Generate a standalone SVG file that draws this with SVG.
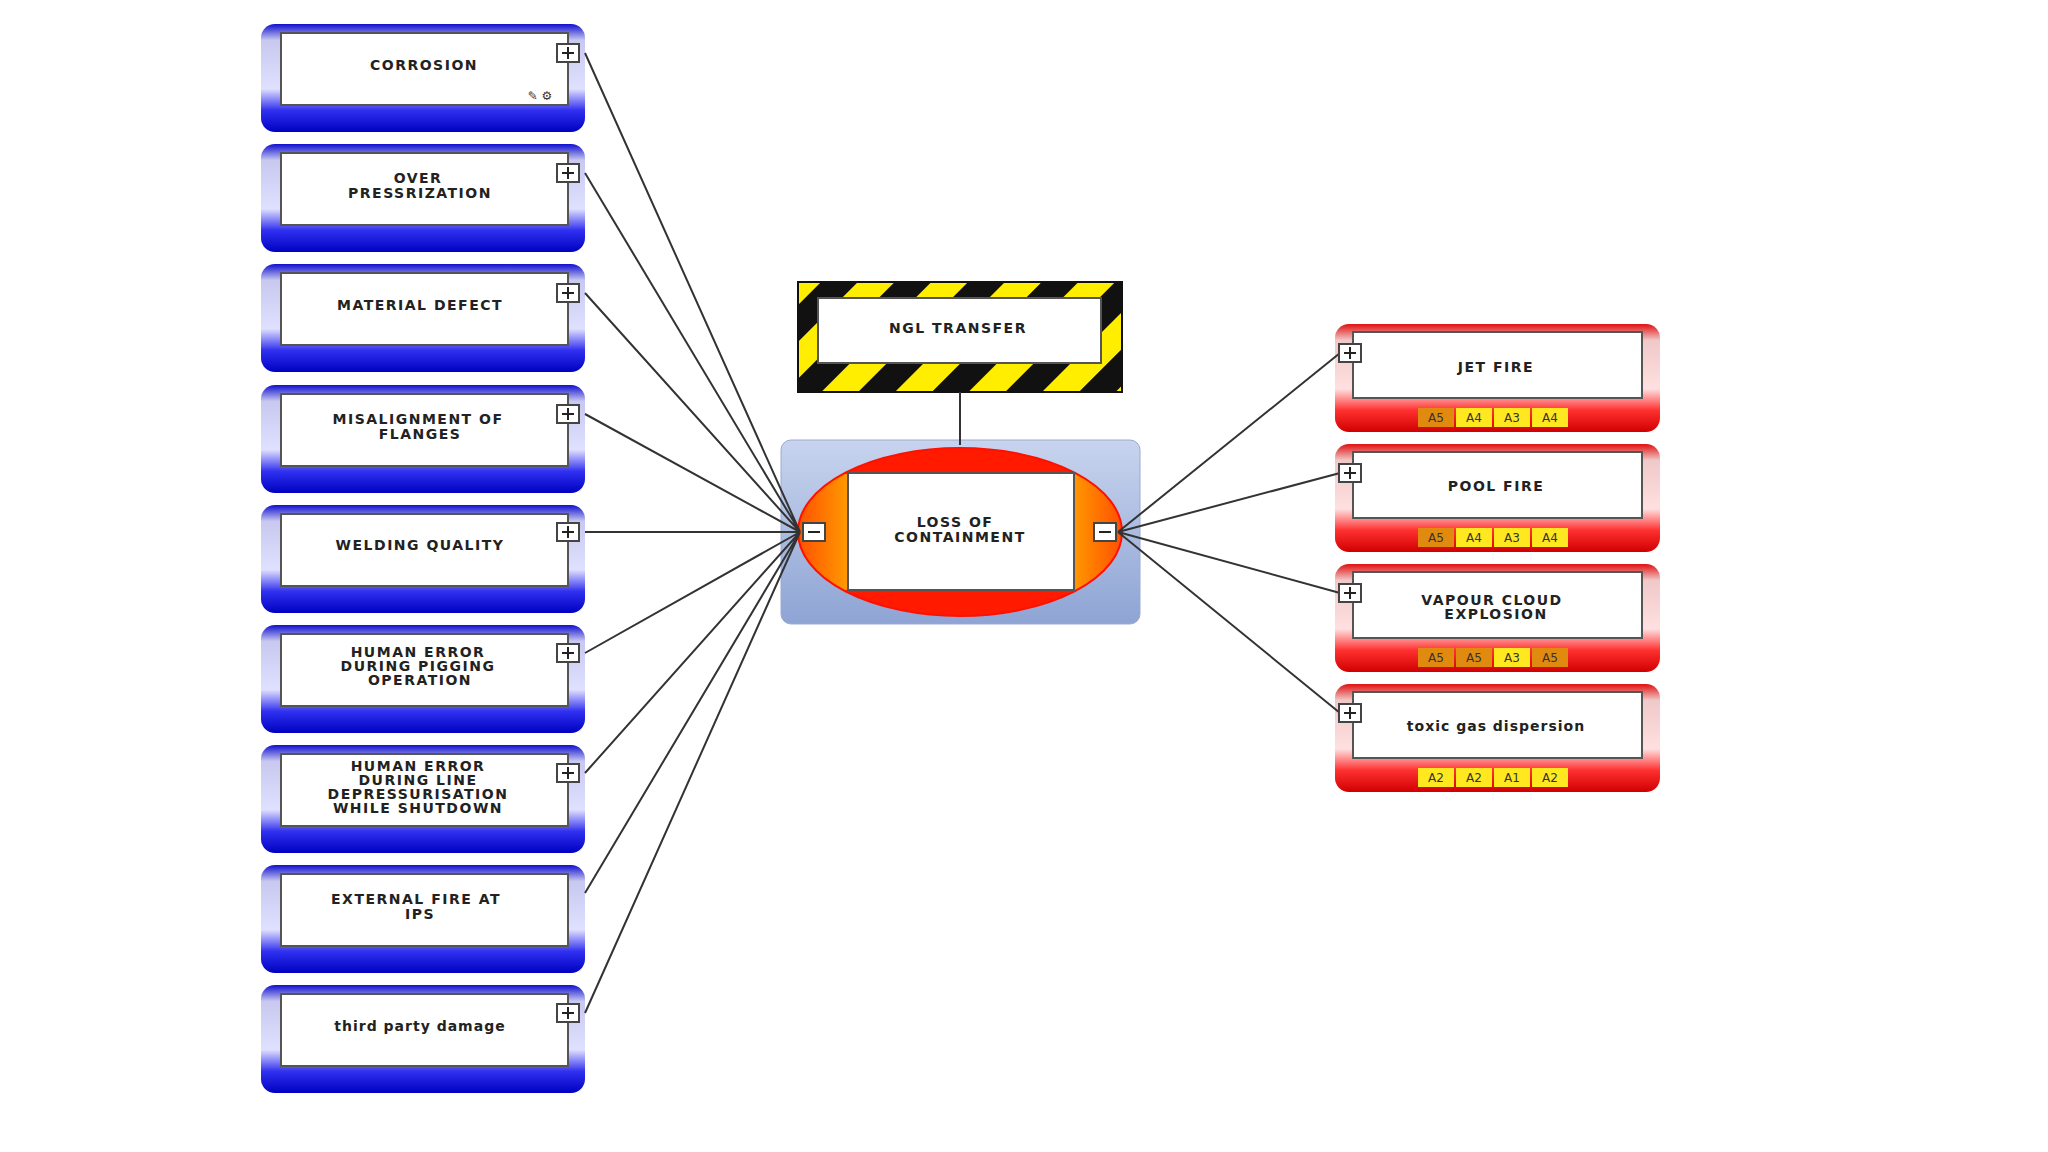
<svg xmlns="http://www.w3.org/2000/svg" width="2048" height="1152" viewBox="0 0 2048 1152">
<defs>
<linearGradient id="bg" x1="0" y1="0" x2="0" y2="1"><stop offset="0" stop-color="#1010d0"/><stop offset="0.15" stop-color="#c8c8f0"/><stop offset="0.6" stop-color="#e0e0ff"/><stop offset="0.8" stop-color="#3030f0"/><stop offset="1" stop-color="#0000c0"/></linearGradient>
<linearGradient id="rg" x1="0" y1="0" x2="0" y2="1"><stop offset="0" stop-color="#e01010"/><stop offset="0.15" stop-color="#f0c8c8"/><stop offset="0.6" stop-color="#ffe0e0"/><stop offset="0.8" stop-color="#ff3030"/><stop offset="1" stop-color="#d00000"/></linearGradient>
<linearGradient id="cg" x1="0" y1="0" x2="0" y2="1"><stop offset="0" stop-color="#c8d4ee"/><stop offset="1" stop-color="#8ea4d4"/></linearGradient>
<linearGradient id="og" x1="0" y1="0" x2="1" y2="0"><stop offset="0" stop-color="#ff5000"/><stop offset="0.2" stop-color="#ffb000"/><stop offset="0.8" stop-color="#ffb000"/><stop offset="1" stop-color="#ff5000"/></linearGradient>
<clipPath id="ec"><ellipse cx="960" cy="532" rx="162" ry="84"/></clipPath>
<pattern id="hz" width="52" height="52" patternUnits="userSpaceOnUse" patternTransform="rotate(45)"><rect width="26" height="52" fill="#111"/><rect x="26" width="26" height="52" fill="#ffee00"/></pattern>
<g id="plus"><rect x="-11" y="-9" width="22" height="18" fill="#fff" stroke="#444" stroke-width="2"/><path d="M-6 0H6M0 -6V6" stroke="#222" stroke-width="2"/></g>
<g id="minus"><rect x="-11" y="-9" width="22" height="18" fill="#fff" stroke="#444" stroke-width="2"/><path d="M-6 0H6" stroke="#222" stroke-width="2"/></g>
</defs>
<style>
.t{font-family:"DejaVu Sans",sans-serif;font-weight:bold;font-size:14px;fill:#222;text-anchor:middle;letter-spacing:1.5px}
.b{font-family:"DejaVu Sans",sans-serif;font-size:12px;fill:#333;text-anchor:middle}
.w{fill:#fff;stroke:#555;stroke-width:2}
.c{stroke:#333;stroke-width:2;fill:none}
.o{fill:#e08a10}.y{fill:#ffe820}
</style>
<rect width="2048" height="1152" fill="#fff"/>
<g id="left-nodes">
<g id="n1"><rect x="261" y="24" width="324" height="108" rx="14" fill="url(#bg)"/><rect class="w" x="281" y="33" width="287" height="72"/><text class="t" x="424" y="70">CORROSION</text><use href="#plus" x="568" y="53"/><text class="b" x="540" y="100">✎ ⚙</text></g>
<g id="n2"><rect x="261" y="144" width="324" height="108" rx="14" fill="url(#bg)"/><rect class="w" x="281" y="153" width="287" height="72"/><text class="t" x="418" y="183">OVER</text><text class="t" x="420" y="198">PRESSRIZATION</text><use href="#plus" x="568" y="173"/></g>
<g id="n3"><rect x="261" y="264" width="324" height="108" rx="14" fill="url(#bg)"/><rect class="w" x="281" y="273" width="287" height="72"/><text class="t" x="420" y="310">MATERIAL DEFECT</text><use href="#plus" x="568" y="293"/></g>
<g id="n4"><rect x="261" y="385" width="324" height="108" rx="14" fill="url(#bg)"/><rect class="w" x="281" y="394" width="287" height="72"/><text class="t" x="418" y="424">MISALIGNMENT OF</text><text class="t" x="420" y="439">FLANGES</text><use href="#plus" x="568" y="414"/></g>
<g id="n5"><rect x="261" y="505" width="324" height="108" rx="14" fill="url(#bg)"/><rect class="w" x="281" y="514" width="287" height="72"/><text class="t" x="420" y="550">WELDING QUALITY</text><use href="#plus" x="568" y="532"/></g>
<g id="n6"><rect x="261" y="625" width="324" height="108" rx="14" fill="url(#bg)"/><rect class="w" x="281" y="634" width="287" height="72"/><text class="t" x="418" y="657">HUMAN ERROR</text><text class="t" x="418" y="671">DURING PIGGING</text><text class="t" x="420" y="685">OPERATION</text><use href="#plus" x="568" y="653"/></g>
<g id="n7"><rect x="261" y="745" width="324" height="108" rx="14" fill="url(#bg)"/><rect class="w" x="281" y="754" width="287" height="72"/><text class="t" x="418" y="771">HUMAN ERROR</text><text class="t" x="418" y="785">DURING LINE</text><text class="t" x="418" y="799">DEPRESSURISATION</text><text class="t" x="418" y="813">WHILE SHUTDOWN</text><use href="#plus" x="568" y="773"/></g>
<g id="n8"><rect x="261" y="865" width="324" height="108" rx="14" fill="url(#bg)"/><rect class="w" x="281" y="874" width="287" height="72"/><text class="t" x="416" y="904">EXTERNAL FIRE AT</text><text class="t" x="420" y="919">IPS</text></g>
<g id="n9"><rect x="261" y="985" width="324" height="108" rx="14" fill="url(#bg)"/><rect class="w" x="281" y="994" width="287" height="72"/><text class="t" x="420" y="1031" style="letter-spacing:1px">third party damage</text><use href="#plus" x="568" y="1013"/></g>
</g>
<g id="ngl"><rect x="798" y="282" width="324" height="110" fill="url(#hz)" stroke="#111" stroke-width="2"/><rect class="w" x="818" y="298" width="283" height="65"/><text class="t" x="958" y="333">NGL TRANSFER</text></g>
<g id="loc"><rect x="781" y="440" width="359" height="184" rx="10" fill="url(#cg)" stroke="#9aaad0"/><ellipse cx="960" cy="532" rx="162" ry="84" fill="url(#og)"/><g clip-path="url(#ec)"><rect x="790" y="440" width="340" height="34" fill="#ff1a00"/><rect x="790" y="590" width="340" height="34" fill="#ff1a00"/></g><ellipse cx="960" cy="532" rx="162" ry="84" fill="none" stroke="#ff1000" stroke-width="2"/><rect class="w" x="848" y="473" width="226" height="117" stroke="#333"/><text class="t" x="955" y="527">LOSS OF</text><text class="t" x="960" y="542">CONTAINMENT</text></g>
<g id="right-nodes">
<g id="r1"><rect x="1335" y="324" width="325" height="108" rx="14" fill="url(#rg)"/><rect class="w" x="1353" y="332" width="289" height="66" stroke="#222"/><text class="t" x="1496" y="372">JET FIRE</text><rect class="o" x="1418" y="408" width="36" height="19"/><rect class="y" x="1456" y="408" width="36" height="19"/><rect class="y" x="1494" y="408" width="36" height="19"/><rect class="y" x="1532" y="408" width="36" height="19"/><text class="b" x="1436" y="422">A5</text><text class="b" x="1474" y="422">A4</text><text class="b" x="1512" y="422">A3</text><text class="b" x="1550" y="422">A4</text></g>
<g id="r2"><rect x="1335" y="444" width="325" height="108" rx="14" fill="url(#rg)"/><rect class="w" x="1353" y="452" width="289" height="66" stroke="#222"/><text class="t" x="1496" y="491">POOL FIRE</text><rect class="o" x="1418" y="528" width="36" height="19"/><rect class="y" x="1456" y="528" width="36" height="19"/><rect class="y" x="1494" y="528" width="36" height="19"/><rect class="y" x="1532" y="528" width="36" height="19"/><text class="b" x="1436" y="542">A5</text><text class="b" x="1474" y="542">A4</text><text class="b" x="1512" y="542">A3</text><text class="b" x="1550" y="542">A4</text></g>
<g id="r3"><rect x="1335" y="564" width="325" height="108" rx="14" fill="url(#rg)"/><rect class="w" x="1353" y="572" width="289" height="66" stroke="#222"/><text class="t" x="1492" y="605">VAPOUR CLOUD</text><text class="t" x="1496" y="619">EXPLOSION</text><rect class="o" x="1418" y="648" width="36" height="19"/><rect class="o" x="1456" y="648" width="36" height="19"/><rect class="y" x="1494" y="648" width="36" height="19"/><rect class="o" x="1532" y="648" width="36" height="19"/><text class="b" x="1436" y="662">A5</text><text class="b" x="1474" y="662">A5</text><text class="b" x="1512" y="662">A3</text><text class="b" x="1550" y="662">A5</text></g>
<g id="r4"><rect x="1335" y="684" width="325" height="108" rx="14" fill="url(#rg)"/><rect class="w" x="1353" y="692" width="289" height="66" stroke="#222"/><text class="t" x="1496" y="731" style="letter-spacing:1px">toxic gas dispersion</text><rect class="y" x="1418" y="768" width="36" height="19"/><rect class="y" x="1456" y="768" width="36" height="19"/><rect class="y" x="1494" y="768" width="36" height="19"/><rect class="y" x="1532" y="768" width="36" height="19"/><text class="b" x="1436" y="782">A2</text><text class="b" x="1474" y="782">A2</text><text class="b" x="1512" y="782">A1</text><text class="b" x="1550" y="782">A2</text></g>
</g>
<g id="connectors">
<path class="c" d="M585 53L800 532M585 173L800 532M585 293L800 532M585 414L800 532M585 532L800 532M585 653L800 532M585 773L800 532M585 893L800 532M585 1013L800 532"/>
<path class="c" d="M1118 532L1340 353M1118 532L1340 473M1118 532L1340 593M1118 532L1340 713"/>
<path class="c" stroke-width="3" d="M960 392V445"/>
</g>
<g id="buttons">
<use href="#minus" x="814" y="532"/><use href="#minus" x="1105" y="532"/>
<use href="#plus" x="1350" y="353"/><use href="#plus" x="1350" y="473"/><use href="#plus" x="1350" y="593"/><use href="#plus" x="1350" y="713"/>
</g>
</svg>
